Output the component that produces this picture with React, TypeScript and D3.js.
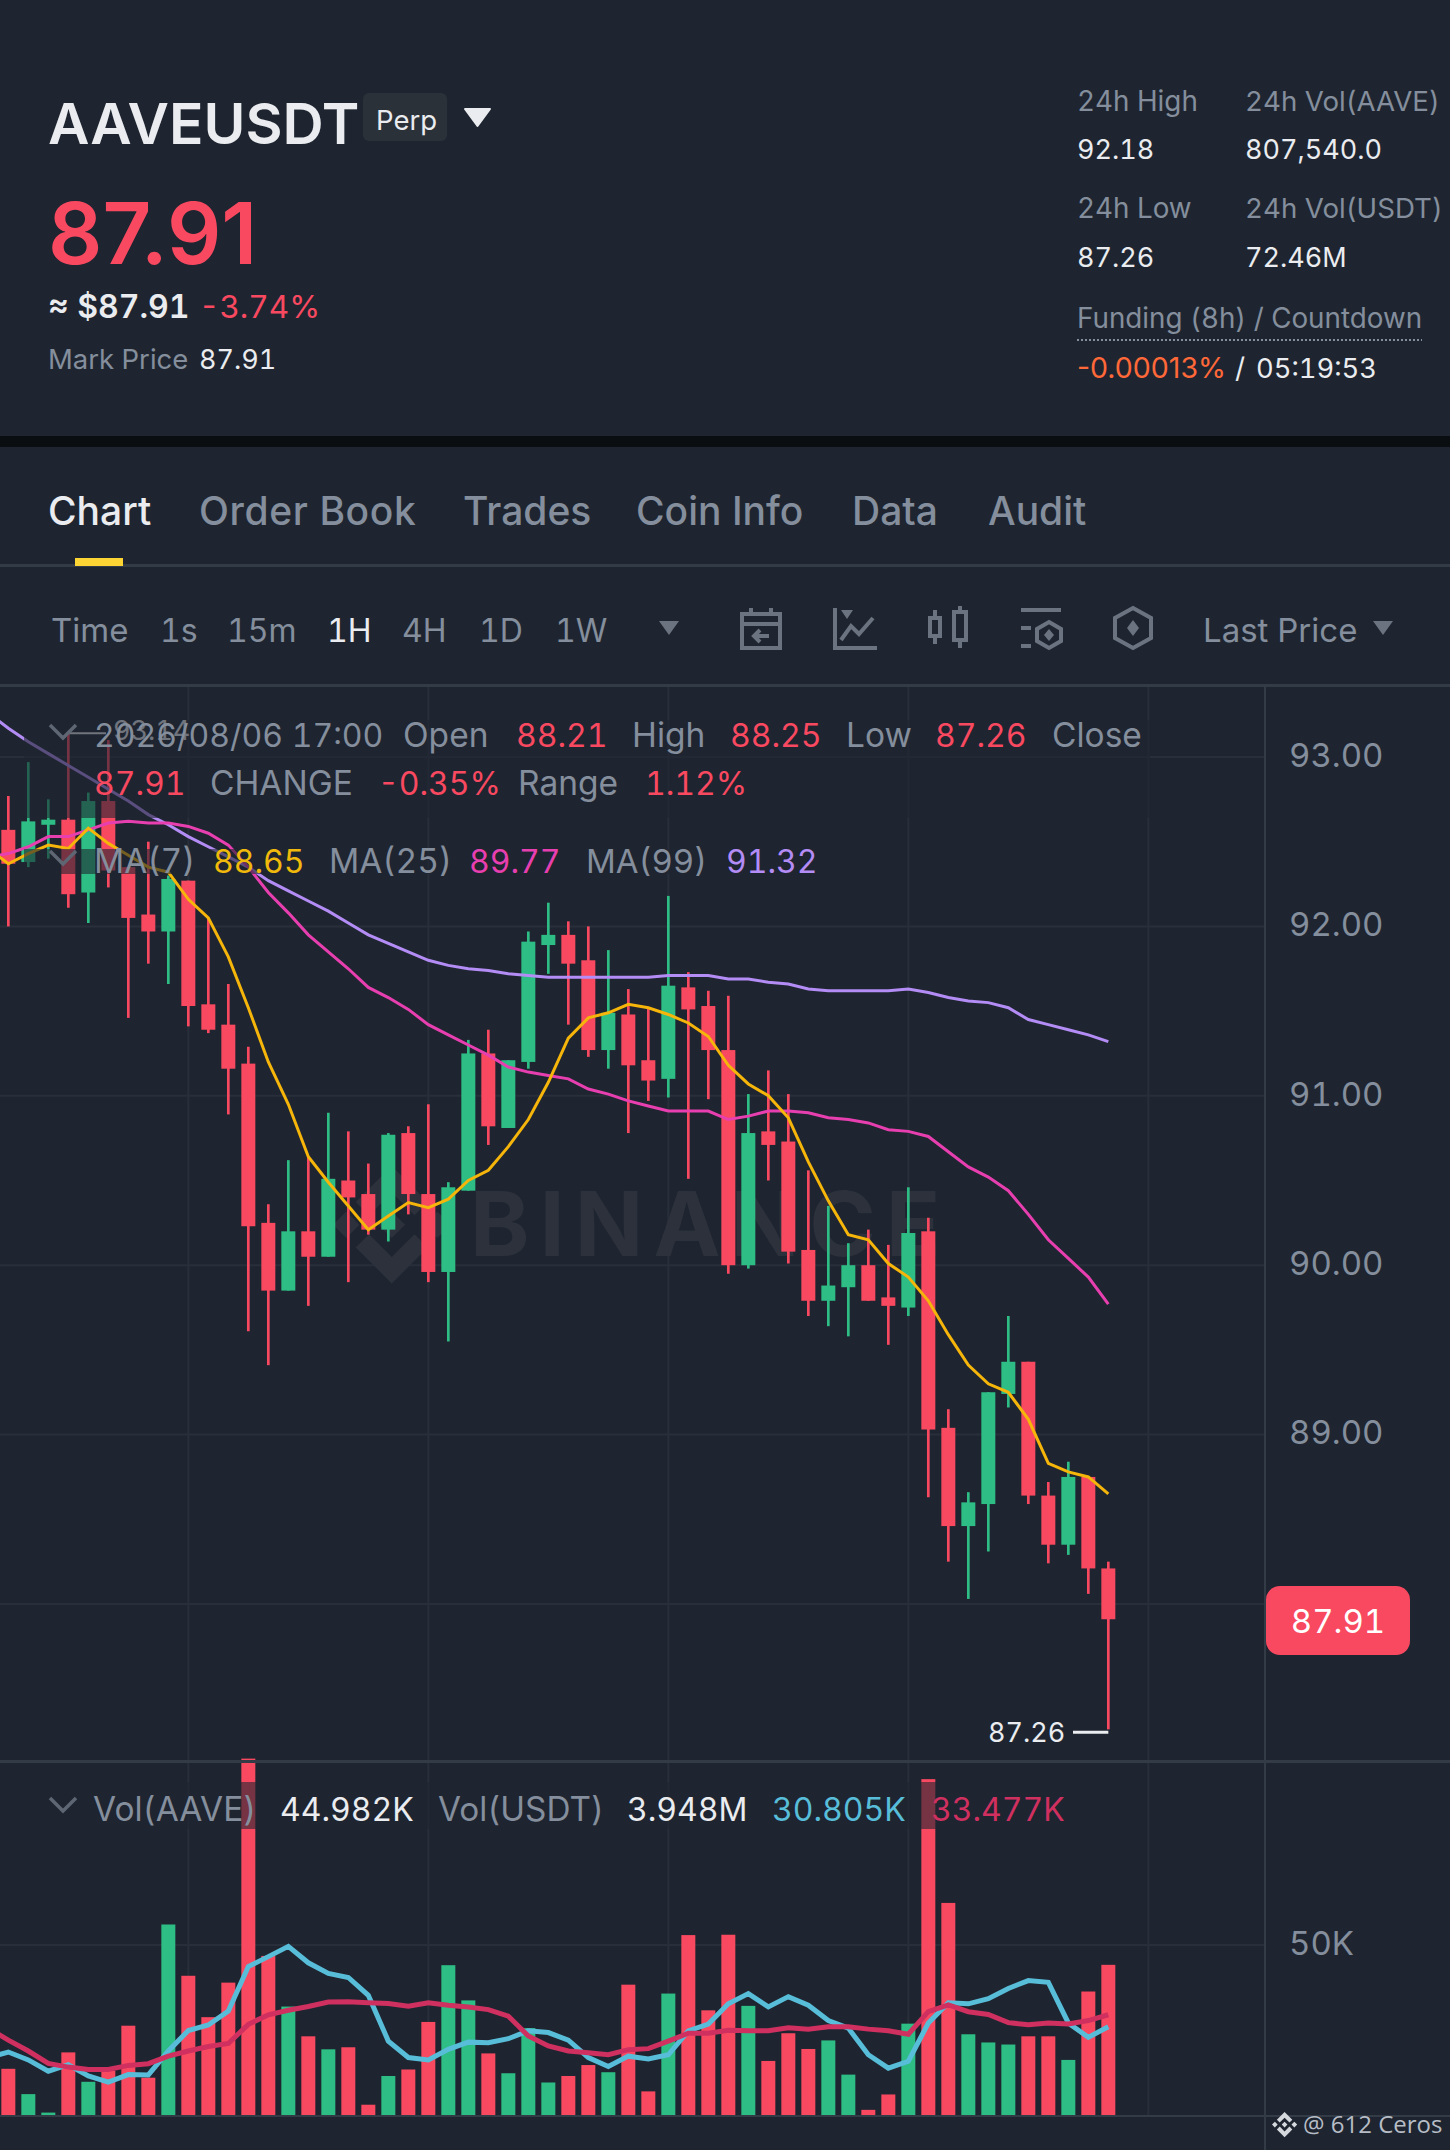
import { useEffect, useRef } from "react";
import * as d3 from "d3";

const opens = [92.57, 92.38, 92.6, 92.63, 92.2, 92.74, 92.35, 92.07, 91.97, 92.27, 91.54, 91.42, 91.19, 90.25, 89.85, 90.2, 90.05, 90.5, 90.42, 90.21, 90.78, 90.42, 89.96, 90.44, 91.25, 90.81, 91.2, 91.89, 91.95, 91.8, 91.27, 91.48, 91.21, 91.1, 91.64, 91.53, 91.27, 90, 90.79, 90.73, 90.09, 89.79, 89.87, 90, 89.81, 89.75, 90.2, 89.04, 88.46, 88.59, 89.24, 89.43, 88.64, 88.35, 88.75, 88.21];
const highs = [92.77, 92.97, 92.75, 93.14, 92.79, 93.1, 92.35, 92.5, 92.3, 92.27, 92.05, 91.66, 91.29, 90.36, 90.62, 90.64, 90.9, 90.79, 90.6, 90.78, 90.82, 90.95, 90.49, 91.33, 91.39, 91.21, 91.97, 92.14, 92.03, 92, 91.86, 91.63, 91.52, 92.18, 91.73, 91.62, 91.59, 91.01, 91.15, 91.01, 90.56, 90.35, 90.13, 90.21, 90.12, 90.46, 90.28, 89.15, 88.66, 89.25, 89.7, 89.43, 88.72, 88.84, 88.75, 88.25];
const lows = [92, 92.35, 92.4, 92.11, 92.02, 92.23, 91.46, 91.78, 91.66, 91.41, 91.37, 90.89, 89.61, 89.41, 89.85, 89.76, 90.05, 89.9, 90.18, 90.14, 90.3, 89.9, 89.55, 90.44, 90.71, 90.81, 91.16, 91.72, 91.42, 91.23, 91.16, 90.78, 90.97, 90.99, 90.51, 90.98, 89.95, 89.98, 90.5, 90.01, 89.7, 89.64, 89.58, 89.79, 89.53, 89.7, 88.63, 88.25, 88.03, 88.31, 89.16, 88.59, 88.24, 88.29, 88.06, 87.26];
const closes = [92.37, 92.62, 92.63, 92.19, 92.74, 92.33, 92.05, 91.97, 92.28, 91.53, 91.39, 91.16, 90.23, 89.85, 90.2, 90.05, 90.51, 90.4, 90.21, 90.77, 90.42, 89.96, 90.46, 91.25, 90.82, 91.21, 91.91, 91.95, 91.78, 91.27, 91.49, 91.18, 91.09, 91.65, 91.51, 91.27, 90, 90.78, 90.71, 90.08, 89.79, 89.88, 90, 89.79, 89.76, 90.19, 89.03, 88.46, 88.6, 89.25, 89.43, 88.64, 88.35, 88.75, 88.21, 87.91];

// moving averages start one candle left of the first visible one, so the lines run off the edge
const ma7 = [92.46, 92.37, 92.43, 92.48, 92.46, 92.58, 92.49, 92.42, 92.35, 92.32, 92.16, 92.05, 91.82, 91.52, 91.2, 90.95, 90.64, 90.49, 90.35, 90.21, 90.29, 90.37, 90.34, 90.39, 90.5, 90.56, 90.7, 90.86, 91.08, 91.34, 91.46, 91.49, 91.54, 91.52, 91.48, 91.43, 91.35, 91.18, 91.07, 91, 90.87, 90.61, 90.38, 90.18, 90.15, 90.01, 89.93, 89.79, 89.59, 89.41, 89.3, 89.25, 89.09, 88.83, 88.78, 88.75, 88.65];
const ma25 = [92.41, 92.43, 92.47, 92.53, 92.53, 92.57, 92.61, 92.62, 92.61, 92.61, 92.59, 92.55, 92.48, 92.35, 92.2, 92.08, 91.95, 91.85, 91.75, 91.64, 91.58, 91.51, 91.42, 91.36, 91.3, 91.24, 91.17, 91.14, 91.12, 91.1, 91.04, 91.01, 90.97, 90.94, 90.91, 90.91, 90.91, 90.86, 90.88, 90.91, 90.91, 90.9, 90.87, 90.86, 90.84, 90.8, 90.79, 90.76, 90.67, 90.58, 90.52, 90.44, 90.3, 90.15, 90.04, 89.93, 89.77];
const ma99 = [93.26, 93.17, 93.09, 93.02, 92.95, 92.88, 92.81, 92.74, 92.66, 92.6, 92.53, 92.47, 92.41, 92.35, 92.27, 92.21, 92.15, 92.09, 92.02, 91.95, 91.9, 91.85, 91.8, 91.77, 91.75, 91.74, 91.72, 91.71, 91.7, 91.7, 91.7, 91.7, 91.7, 91.7, 91.71, 91.71, 91.71, 91.69, 91.69, 91.67, 91.66, 91.63, 91.62, 91.62, 91.62, 91.62, 91.63, 91.61, 91.58, 91.56, 91.55, 91.52, 91.45, 91.42, 91.39, 91.36, 91.32];

const volumes = [13.8, 6.4, 1, 18.6, 10, 13.2, 26.4, 11.2, 56, 41, 28.9, 39, 104.5, 46.8, 32, 23.3, 19.5, 20.1, 3.3, 11.7, 13.6, 27.5, 44.1, 33.8, 18.3, 12.5, 25.7, 9.8, 11.7, 14.9, 12.8, 38.4, 7.2, 35.8, 52.9, 30.9, 53, 32.2, 16.1, 24.2, 19.6, 22.1, 12.1, 1.8, 6.3, 27, 98.5, 62.3, 23.9, 21.5, 20.9, 23.3, 23.3, 16.4, 36.4, 44.2];
const volMaShort = [17, 18.7, 16.4, 13.1, 15, 11.7, 9.9, 12.1, 12, 19, 25, 26.6, 30.7, 43.7, 46.6, 49.6, 44.8, 41.7, 40.5, 35.3, 21.9, 17.1, 16.4, 19.5, 21.6, 21.4, 22.6, 24.9, 24.4, 22.2, 17.1, 14.5, 17.5, 16.7, 17.9, 24.9, 26.9, 32.8, 35.8, 31.9, 34.9, 32.4, 27.9, 25.7, 17.9, 14, 16, 27.2, 33.1, 32.8, 34.3, 37.3, 39.6, 39.1, 27.2, 23, 26.1];
const volMaLong = [25.6, 22.2, 19, 15.4, 14.3, 13.6, 13.6, 14.8, 15.3, 17.5, 19, 20.3, 21.2, 26.8, 29.6, 30.9, 32, 33.3, 33.4, 33.1, 32.9, 32.1, 33.1, 32.4, 31.9, 31.1, 29.2, 23.4, 20.5, 19, 18.5, 17.9, 19.4, 19.7, 21.9, 24.2, 24.2, 25.1, 24.9, 24.9, 25.8, 25.4, 26.1, 26.1, 25.4, 24.9, 23.9, 30.5, 32.5, 30.5, 29.7, 27.3, 26.7, 27.2, 26.9, 27.9, 29.6];

const priceGrid = [93, 92, 91, 90, 89, 88];
const priceTicks = [93, 92, 91, 90, 89]; // 88.00 sits under the last price tag
const volumeTicks = [50];
const gridCandles = [9, 21, 33, 45, 57];
const tabs = ["Chart", "Order Book", "Trades", "Coin Info", "Data", "Audit"];
const tabX = [48, 199, 463, 636, 852, 988];
const intervals = ["Time", "1s", "15m", "1H", "4H", "1D", "1W"];
const intervalX = [51, 160, 227, 327, 402, 479, 555];

const BG = "#1e2530";
const BAND = "#0b0e11";
const LINE = "#333b47";
const GRID = "#282f3b";
const GREY = "#848e9c";
const RED = "#f84960";
const GREEN = "#2ebd85";
const WHITE = "#eaecef";
const YELLOW = "#f0b90b";
const PINK = "#e83fb0";
const PURPLE = "#b48cf5";
const TEAL = "#58bdd8";
const ROSE = "#d03060";
const FONT = "Inter, sans-serif";

const BINANCE_PATH = "M16.624 13.9202l2.7175 2.7154-7.353 7.353-7.353-7.352 2.7175-2.7164 4.6355 4.6595 4.6356-4.6595zm4.6366-4.6366L24 12l-2.7154 2.7164L18.5682 12l2.6924-2.7164zm-9.272.001l2.7163 2.6914-2.7164 2.7174v-.001L9.2721 12l2.7164-2.7154zm-9.2722-.001L5.4088 12l-2.6914 2.6924L0 12l2.7164-2.7164zM11.9885.0115l7.353 7.329-2.7174 2.7154-4.6356-4.6356-4.6355 4.6595-2.7174-2.7154 7.353-7.353z";

export default function App() {
  const svgRef = useRef<SVGSVGElement>(null);

  useEffect(() => {
    document.body.style.margin = "0";
    document.body.style.background = BG;
    if (!svgRef.current) return;
    const svg = d3.select(svgRef.current);
    svg.selectAll("*").remove();

    const W = 1450;
    const H = 2150;
    const axisX = 1265;

    const x = d3.scaleLinear().domain([0, 55]).range([8.33, 1108.33]);
    const y = d3.scaleLinear().domain([92, 88]).range([926.4, 1604]);
    const v = d3.scaleLinear().domain([0, 50]).range([2116, 1945]);

    const label = (tx: number, ty: number, s: string, size: number, fill: string, weight = 400) =>
      svg.append("text").attr("x", tx).attr("y", ty).attr("font-size", size).attr("fill", fill)
        .attr("font-weight", weight).attr("font-family", FONT).text(s);

    svg.append("rect").attr("width", W).attr("height", H).attr("fill", BG);
    svg.append("rect").attr("y", 436).attr("width", W).attr("height", 11).attr("fill", BAND);

    // Header
    label(48, 144, "AAVEUSDT", 57, WHITE, 600);
    svg.append("rect").attr("x", 363).attr("y", 93).attr("width", 84).attr("height", 48).attr("rx", 6).attr("fill", "#2b3139");
    label(376, 130, "Perp", 27.5, WHITE);
    svg.append("path").attr("d", "M465 109h25l-12.5 17z").attr("fill", WHITE).attr("stroke", WHITE).attr("stroke-width", 2).attr("stroke-linejoin", "round");
    label(48, 264, "87.91", 85, RED, 600).style("font-variant-numeric", "normal");
    label(48, 318, "≈ $87.91", 32, WHITE, 600);
    label(199, 318, "-3.74%", 31.5, RED, 400);
    label(48, 369, "Mark Price", 27.5, GREY);
    label(199, 369, "87.91", 27, WHITE);

    label(1077, 111, "24h High", 27.8, GREY);
    label(1245, 111, "24h Vol(AAVE)", 27.7, GREY);
    label(1077, 159, "92.18", 27, WHITE);
    label(1245, 159, "807,540.0", 27, WHITE);
    label(1077, 218, "24h Low", 27.8, GREY);
    label(1245, 218, "24h Vol(USDT)", 27.7, GREY);
    label(1077, 267, "87.26", 27, WHITE);
    label(1245, 267, "72.46M", 27, WHITE);
    label(1077, 328, "Funding (8h) / Countdown", 27.8, GREY);
    svg.append("line").attr("x1", 1077).attr("x2", 1422).attr("y1", 340).attr("y2", 340)
      .attr("stroke", GREY).attr("stroke-width", 2).attr("stroke-dasharray", "2 2");
    label(1077, 378, "-0.00013%", 28.5, "#ff6838").style("font-variant-numeric", "normal");
    label(1235, 378, "/", 28, WHITE);
    label(1256, 378, "05:19:53", 27.3, WHITE);

    // Tabs
    tabs.forEach((t, i) => label(tabX[i], 525, t, 39, i === 0 ? WHITE : GREY, 500).attr("letter-spacing", t === "Order Book" ? 0.6 : 0));
    svg.append("rect").attr("y", 564).attr("width", W).attr("height", 3).attr("fill", LINE);
    svg.append("rect").attr("x", 75).attr("y", 558).attr("width", 48).attr("height", 8).attr("fill", "#fcd535");

    // Toolbar
    intervals.forEach((t, i) => label(intervalX[i], 642, t, t === "Time" ? 33 : 32, t === "1H" ? WHITE : GREY));
    const iconColor = "#6b7380";
    const tri = (cx: number, cy: number, c: string) =>
      svg.append("path").attr("d", `M${cx - 10} ${cy - 7}h20l-10 14z`).attr("fill", c);
    tri(669, 628, iconColor);
    tri(1383, 628, iconColor);
    label(1203, 642, "Last Price", 33, GREY);
    const icon = (tx: number, d: string, fillD?: string) => {
      const g = svg.append("g").attr("transform", `translate(${tx - 22},606)`);
      g.append("path").attr("d", d).attr("fill", "none").attr("stroke", iconColor).attr("stroke-width", 4);
      if (fillD) g.append("path").attr("d", fillD).attr("fill", iconColor);
    };
    icon(761, "M3 8h38v34H3zM3 18h38M12 2v8M32 2v8M30 30H15M21 24l-6 6 6 6");
    icon(855, "M2 2v40h42M8 34l10-14 8 8 14-16", "M8 4h12l-6 9z");
    icon(948, "M4 12h10v18H4zM9 4v8M9 30v8M28 6h12v28H28zM34 0v6M34 34v8");
    icon(1041, "M2 4h40M2 22h10M2 40h10M30 16l12 7v12l-12 7-12-7V23z", "M30 23l5 6-5 6-5-6z");
    icon(1133, "M22 2l18 10v20L22 42 4 32V12z", "M22 14l6 8-6 8-6-8z");
    svg.append("rect").attr("y", 684).attr("width", W).attr("height", 3).attr("fill", LINE);

    // Grid
    svg.append("g").selectAll("line").data(gridCandles).enter().append("line")
      .attr("x1", (d) => x(d)).attr("x2", (d) => x(d)).attr("y1", 687).attr("y2", 2116)
      .attr("stroke", GRID).attr("stroke-width", 2);
    svg.append("g").selectAll("line").data(priceGrid).enter().append("line")
      .attr("x1", 0).attr("x2", axisX).attr("y1", (d) => y(d)).attr("y2", (d) => y(d))
      .attr("stroke", GRID).attr("stroke-width", 2);
    svg.append("line").attr("x1", 0).attr("x2", axisX).attr("y1", v(50)).attr("y2", v(50))
      .attr("stroke", GRID).attr("stroke-width", 2);

    // Watermark
    svg.append("path").attr("d", BINANCE_PATH).attr("transform", "translate(333,1166) scale(4.9)").attr("fill", "#2c313b");
    label(470, 1256, "BINANCE", 90, "#2c313b", 700).attr("letter-spacing", 10);

    // Candles
    const idx = d3.range(closes.length);
    const col = (i: number) => (closes[i] >= opens[i] ? GREEN : RED);
    svg.append("g").selectAll("line").data(idx).enter().append("line")
      .attr("x1", (i) => x(i)).attr("x2", (i) => x(i))
      .attr("y1", (i) => y(highs[i])).attr("y2", (i) => y(lows[i]))
      .attr("stroke", col).attr("stroke-width", 2.7);
    svg.append("g").selectAll("rect").data(idx).enter().append("rect")
      .attr("x", (i) => x(i) - 7).attr("width", 14)
      .attr("y", (i) => y(Math.max(opens[i], closes[i])))
      .attr("height", (i) => Math.abs(y(opens[i]) - y(closes[i])))
      .attr("fill", col);

    const priceLine = d3.line<number>().x((_, i) => x(i - 1)).y((d) => y(d));
    const maSeries: [number[], string][] = [[ma99, PURPLE], [ma25, PINK], [ma7, "#f5b50a"]];
    maSeries.forEach(([s, c]) => {
      svg.append("path").attr("d", priceLine(s)).attr("fill", "none").attr("stroke", c).attr("stroke-width", 3);
    });

    // High marker
    svg.append("line").attr("x1", x(3)).attr("x2", 106).attr("y1", y(93.14)).attr("y2", y(93.14)).attr("stroke", WHITE).attr("stroke-width", 2);
    label(113, 740, "93.14", 27, WHITE);
    // Low marker
    svg.append("line").attr("x1", 1073).attr("x2", x(55)).attr("y1", y(87.26) + 3).attr("y2", y(87.26) + 3).attr("stroke", WHITE).attr("stroke-width", 3);
    label(988, 1742, "87.26", 27, WHITE);

    // Volume bars
    svg.append("g").selectAll("rect").data(idx).enter().append("rect")
      .attr("x", (i) => x(i) - 7).attr("width", 14)
      .attr("y", (i) => v(volumes[i]))
      .attr("height", (i) => v(0) - v(volumes[i]))
      .attr("fill", col);
    const volLine = d3.line<number>().x((_, i) => x(i - 1)).y((d) => v(d));
    svg.append("path").attr("d", volLine(volMaShort)).attr("fill", "none").attr("stroke", TEAL).attr("stroke-width", 5);
    svg.append("path").attr("d", volLine(volMaLong)).attr("fill", "none").attr("stroke", ROSE).attr("stroke-width", 5);

    // Legend veils
    svg.append("rect").attr("x", 24).attr("y", 720).attr("width", 1126).attr("height", 98).attr("fill", BG).attr("opacity", 0.6);
    svg.append("rect").attr("x", 24).attr("y", 849).attr("width", 800).attr("height", 25).attr("fill", BG).attr("opacity", 0.6);
    svg.append("rect").attr("x", 24).attr("y", 1782).attr("width", 1050).attr("height", 47).attr("fill", BG).attr("opacity", 0.6);

    // Panel lines
    svg.append("rect").attr("y", 1760).attr("width", W).attr("height", 3).attr("fill", LINE);
    svg.append("rect").attr("y", 2115).attr("width", W).attr("height", 2).attr("fill", LINE);
    svg.append("rect").attr("x", axisX - 1).attr("y", 687).attr("width", 2).attr("height", H - 687).attr("fill", LINE);

    // Axes
    const priceAxis = svg.append("g").attr("transform", `translate(${axisX},0)`)
      .call(d3.axisRight(y).tickValues(priceTicks).tickFormat((d) => (d as number).toFixed(2)).tickSize(0).tickPadding(24));
    const volAxis = svg.append("g").attr("transform", `translate(${axisX},0)`)
      .call(d3.axisRight(v).tickValues(volumeTicks).tickFormat((d) => `${d}K`).tickSize(0).tickPadding(24));
    [priceAxis, volAxis].forEach((a) => {
      a.select(".domain").remove();
      a.selectAll("text").attr("font-size", 33).attr("font-family", FONT).attr("fill", GREY).attr("dy", "0.28em");
    });

    // Last price tag
    svg.append("rect").attr("x", 1266).attr("y", 1586).attr("width", 144).attr("height", 69).attr("rx", 14).attr("fill", RED);
    label(1338, 1633, "87.91", 33, "#ffffff").attr("text-anchor", "middle");

    // Legends
    const chevron = (cy: number) =>
      svg.append("path").attr("d", `M50 ${cy - 7}l13 13 13-13`).attr("fill", "none").attr("stroke", "#5e6673").attr("stroke-width", 3.5);
    chevron(732);
    chevron(858);
    chevron(1805);
    const row1: [number, string, string, number][] = [[94, "2026/08/06 17:00", GREY, 32], [403, "Open", GREY, 33.5], [516, "88.21", RED, 32], [632, "High", GREY, 33.5], [730, "88.25", RED, 32], [846, "Low", GREY, 33.5], [935, "87.26", RED, 32], [1052, "Close", GREY, 33.5]];
    row1.forEach(([tx, s, c, z]) => label(tx, 747, s, z, c));
    const row2: [number, string, string, number][] = [[94, "87.91", RED, 32], [210, "CHANGE", GREY, 33.5], [378, "-0.35%", RED, 32], [518, "Range", GREY, 33.5], [645, "1.12%", RED, 32]];
    row2.forEach(([tx, s, c, z]) => label(tx, 795, s, z, c));
    const row3: [number, string, string, number][] = [[94, "MA(7)", GREY, 33.5], [213, "88.65", YELLOW, 32], [329, "MA(25)", GREY, 33.5], [469, "89.77", PINK, 32], [586, "MA(99)", GREY, 33], [726, "91.32", PURPLE, 32]];
    row3.forEach(([tx, s, c, z]) => label(tx, 873, s, z, c));
    const row4: [number, string, string, number][] = [[93, "Vol(AAVE)", GREY, 33.5], [280, "44.982K", WHITE, 32], [438, "Vol(USDT)", GREY, 33.3], [627, "3.948M", WHITE, 32], [772, "30.805K", TEAL, 32], [931, "33.477K", ROSE, 32]];
    row4.forEach(([tx, s, c, z]) => label(tx, 1821, s, z, c));

    // Footer
    svg.append("path").attr("d", BINANCE_PATH).attr("transform", "translate(1272,2112) scale(1.05)").attr("fill", "#d5d9de");
    label(1303, 2133, "@ 612 Ceros", 24, "#b7bdc6").attr("font-family", "'Open Sans', sans-serif");
  }, []);

  return <svg ref={svgRef} width={1450} height={2150} style={{ display: "block", fontVariantNumeric: "tabular-nums" }} role="img" aria-label="AAVEUSDT perpetual 1H candlestick chart" />;
}
